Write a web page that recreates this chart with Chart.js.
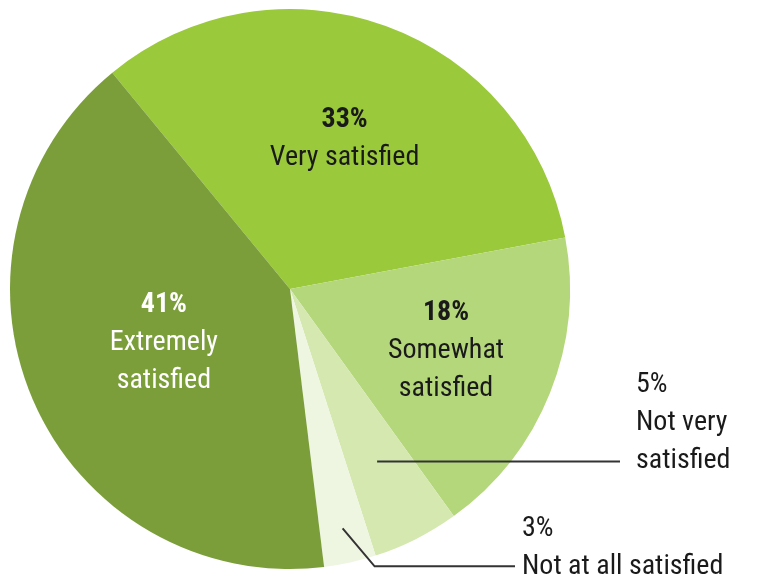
<!DOCTYPE html>
<html>
<head>
<meta charset="utf-8">
<script src="https://cdn.jsdelivr.net/npm/chart.js@4"></script>
<style>
  body { margin: 0; background: #fff; }
  #wrap { width: 768px; height: 578px; }
</style>
</head>
<body>
<div id="wrap"><canvas id="pie"></canvas></div>
<script>
const categories = ["Very satisfied", "Somewhat satisfied", "Not very satisfied", "Not at all satisfied", "Extremely satisfied"];
const shares = [33, 18, 5, 3, 41];
const colors = ["#9bc93c", "#b5d77b", "#d4e8b0", "#eef6e1", "#7b9e3b"];

const FONT = '"Liberation Sans Narrow", "Roboto Condensed", "Liberation Sans", sans-serif';

// label lines and placement per slice (fraction of radius along the slice middle)
const labelSetup = [
  { f: 0.57, lines: ["33%", "Very satisfied"], color: "#1a1a1a" },
  { f: 0.6, lines: ["18%", "Somewhat", "satisfied"], color: "#1a1a1a" },
  { f: 0.69, leader: "straight", lines: ["5%", "Not very", "satisfied"] },
  { f: 0.875, leader: "bent", lines: ["3%", "Not at all satisfied"] },
  { f: 0.49, lines: ["41%", "Extremely", "satisfied"], color: "#ffffff" }
];

const pieLabels = {
  id: "pieLabels",
  afterDraw(chart) {
    const ctx = chart.ctx;
    const arcs = chart.getDatasetMeta(0).data;
    ctx.save();
    arcs.forEach((arc, i) => {
      const cfg = labelSetup[i];
      const mid = (arc.startAngle + arc.endAngle) / 2;
      const x = arc.x + Math.cos(mid) * arc.outerRadius * cfg.f;
      const y = arc.y + Math.sin(mid) * arc.outerRadius * cfg.f;
      const lh = 38;
      if (!cfg.leader) {
        ctx.textAlign = "center";
        ctx.textBaseline = "middle";
        ctx.fillStyle = cfg.color;
        const top = y - (cfg.lines.length - 1) * lh / 2;
        cfg.lines.forEach((t, k) => {
          ctx.font = (k === 0 ? "bold " : "") + "28px " + FONT;
          ctx.fillText(t, x, top + k * lh);
        });
        return;
      }
      ctx.strokeStyle = "#333";
      ctx.lineWidth = 2;
      ctx.fillStyle = "#1a1a1a";
      ctx.textAlign = "left";
      ctx.textBaseline = "middle";
      ctx.font = "28px " + FONT;
      ctx.beginPath();
      if (cfg.leader === "straight") {
        ctx.moveTo(x, y);
        ctx.lineTo(620, y);
        ctx.stroke();
        cfg.lines.forEach((t, k) => ctx.fillText(t, 636, y - 76 + k * lh));
      } else {
        ctx.moveTo(x, y);
        ctx.lineTo(x + 32, y + 38);
        ctx.lineTo(515, y + 38);
        ctx.stroke();
        cfg.lines.forEach((t, k) => ctx.fillText(t, 522, y + 1 + k * lh));
      }
    });
    ctx.restore();
  }
};

new Chart(document.getElementById("pie"), {
  type: "pie",
  data: {
    labels: categories,
    datasets: [{ data: shares, backgroundColor: colors, borderWidth: 0 }]
  },
  options: {
    responsive: true,
    maintainAspectRatio: false,
    animation: false,
    rotation: -39.4,
    layout: { padding: { left: 10, right: 198, top: 9, bottom: 9 } },
    plugins: { legend: { display: false }, tooltip: { enabled: false } }
  },
  plugins: [pieLabels]
});
</script>
</body>
</html>
